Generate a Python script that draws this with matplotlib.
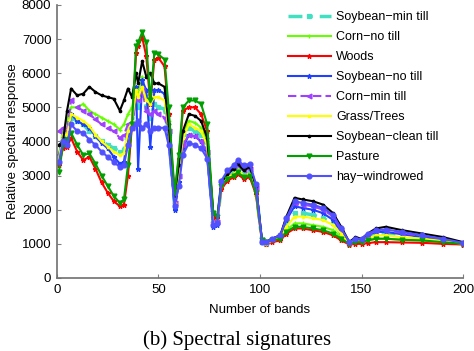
import matplotlib
matplotlib.use("Agg")
import matplotlib.pyplot as plt

bands = [1, 3, 5, 7, 10, 13, 16, 19, 22, 25, 28, 31, 33, 35, 37, 39, 40, 42, 44, 46,
         48, 50, 53, 55, 58, 60, 62, 65, 68, 71, 74, 77, 79, 81, 84, 87, 89, 92, 95, 98,
         101, 103, 106, 110, 113, 117, 121, 126, 131, 136, 140, 144, 147, 150, 153, 157,
         162, 170, 180, 190, 200]

soy_min = [3500, 4200, 4100, 4700, 4600, 4500, 4300, 4150, 4000, 3900, 3800, 3700, 3750, 4300, 4500, 5400, 5000, 5500, 5000, 4700,
           5100, 5000, 4950, 4200, 2100, 3000, 4000, 4400, 4300, 4200, 3800, 1600, 1600, 2750, 3000, 3100, 3200, 3050, 3100, 2600,
           1050, 1000, 1100, 1200, 1550, 1900, 1900, 1850, 1750, 1600, 1300, 1000, 1100, 1050, 1200, 1300,
           1300, 1250, 1180, 1100, 1000]
corn_no = [3500, 4300, 4600, 5000, 5000, 5100, 4900, 4800, 4700, 4600, 4500, 4350, 4500, 4800, 5000, 5600, 5500, 5900, 5300, 5400,
           5500, 5500, 5400, 4600, 2300, 3200, 4200, 4600, 4550, 4400, 4000, 1750, 1700, 2700, 2950, 3050, 3150, 3000, 3050, 2550,
           1050, 1000, 1100, 1150, 1400, 1600, 1600, 1550, 1500, 1400, 1200, 1000, 1050, 1050, 1100, 1150,
           1150, 1120, 1100, 1050, 1000]
woods = [3300, 3800, 3850, 4100, 3700, 3450, 3550, 3200, 2800, 2500, 2250, 2100, 2150, 3000, 4500, 6600, 6800, 7050, 6500, 5100,
         6400, 6450, 6200, 4800, 2400, 3500, 4900, 5000, 5000, 4800, 4300, 1800, 1750, 2600, 2850, 2950, 3050, 2900, 2950, 2450,
         1050, 1000, 1050, 1100, 1300, 1450, 1450, 1400, 1350, 1250, 1100, 980, 1000, 1000, 1020, 1050,
         1050, 1040, 1030, 1000, 980]
soy_no = [3600, 4100, 4000, 4800, 4600, 4500, 4400, 4150, 3950, 3800, 3550, 3350, 3400, 4200, 4400, 5600, 3200, 5800, 5500, 3850,
          5500, 5500, 5400, 4200, 2000, 2800, 3800, 4200, 4150, 4000, 3600, 1500, 1550, 2800, 3100, 3250, 3400, 3250, 3300, 2700,
          1050, 1050, 1150, 1250, 1700, 2100, 2050, 2000, 1900, 1700, 1350, 1050, 1150, 1100, 1250, 1350,
          1350, 1280, 1200, 1120, 1020]
corn_min = [4300, 4400, 4300, 5200, 5000, 4900, 4800, 4650, 4500, 4400, 4300, 4100, 4200, 4500, 4400, 5300, 5200, 5500, 4900, 4800,
            4900, 4800, 4700, 4300, 2200, 3000, 3900, 4200, 4150, 4000, 3700, 1650, 1650, 2800, 3050, 3200, 3300, 3150, 3200, 2650,
            1100, 1050, 1150, 1250, 1750, 2200, 2150, 2100, 2000, 1800, 1400, 1050, 1150, 1100, 1250, 1400,
            1400, 1320, 1230, 1150, 1030]
grass = [3500, 4200, 4200, 4800, 4700, 4600, 4450, 4200, 4000, 3850, 3700, 3600, 3650, 4300, 4600, 5500, 5300, 5600, 5200, 5100,
         5300, 5300, 5200, 4400, 2200, 3100, 4100, 4500, 4400, 4300, 3900, 1600, 1600, 2700, 2950, 3050, 3150, 3000, 3050, 2550,
         1050, 1000, 1100, 1200, 1500, 1800, 1800, 1750, 1700, 1550, 1300, 1000, 1100, 1050, 1150, 1250,
         1250, 1200, 1150, 1080, 1000]
soy_clean = [3900, 4000, 4900, 5550, 5350, 5400, 5600, 5450, 5350, 5300, 5250, 4900, 5200, 5550, 5300, 6000, 5700, 6350, 5900, 6000,
             5700, 5700, 5600, 4500, 2400, 3300, 4300, 4800, 4750, 4600, 4100, 1900, 1800, 2800, 3050, 3200, 3350, 3150, 3250, 2700,
             1100, 1050, 1150, 1250, 1800, 2350, 2300, 2250, 2150, 1900, 1500, 1050, 1200, 1150, 1300, 1450,
             1500, 1400, 1300, 1200, 1050]
pasture = [3100, 3900, 4050, 4250, 3900, 3600, 3650, 3350, 3000, 2700, 2400, 2200, 2300, 3300, 4500, 6800, 6900, 7200, 6900, 5200,
           6600, 6550, 6400, 5000, 2500, 3600, 5000, 5200, 5200, 5100, 4500, 1900, 1800, 2700, 2900, 3000, 3100, 2950, 3000, 2500,
           1100, 1050, 1100, 1150, 1350, 1500, 1500, 1450, 1400, 1300, 1150, 1000, 1050, 1050, 1100, 1150,
           1150, 1120, 1100, 1050, 1000]
hay = [3400, 4000, 3900, 4500, 4300, 4250, 4050, 3900, 3700, 3550, 3400, 3250, 3300, 3900, 4400, 4500, 4600, 4400, 4500, 4300,
       4400, 4400, 4400, 3900, 2100, 2700, 3600, 3950, 3900, 3800, 3500, 1550, 1600, 2850, 3150, 3300, 3450, 3300, 3350, 2750,
       1050, 1050, 1150, 1250, 1750, 2250, 2200, 2150, 2050, 1850, 1450, 1050, 1150, 1150, 1300, 1400,
       1420, 1350, 1250, 1150, 1030]

series = [
    ("Soybean\u2212min till", soy_min, "#40E0C0", (0, (4, 2, 1, 2)), "s", 2.5),
    ("Corn\u2212no till", corn_no, "#66FF00", "-", "+", 1.5),
    ("Woods", woods, "#FF0000", "-", "*", 1.5),
    ("Soybean\u2212no till", soy_no, "#2040FF", "-", "*", 1.5),
    ("Corn\u2212min till", corn_min, "#A040FF", (0, (4, 2)), "<", 1.5),
    ("Grass/Trees", grass, "#FFFF00", "-", ".", 1.5),
    ("Soybean\u2212clean till", soy_clean, "#000000", "-", ".", 1.5),
    ("Pasture", pasture, "#00A000", "-", "v", 1.5),
    ("hay\u2212windrowed", hay, "#5050FF", "-", "o", 1.5),
]

plt.rcParams['font.family'] = ['Liberation Sans', 'DejaVu Sans']
fig = plt.figure(figsize=(4.74, 3.51), dpi=100)
ax = fig.add_axes([0.120, 0.208, 0.857, 0.778])

for name, vals, col, ls, mk, lw in series:
    ax.plot(bands, vals, color=col, linestyle=ls, linewidth=lw, marker=mk,
            markersize=3.5, markeredgewidth=0.9, label=name)

ax.set_xlim(0, 200)
ax.set_ylim(0, 8000)
ax.set_xticks([0, 50, 100, 150, 200])
ax.set_yticks(range(0, 8001, 1000))
ax.tick_params(direction='in', length=3, labelsize=9.5, color='#808080', pad=4)
for s in ['top', 'right']:
    ax.spines[s].set_visible(False)
for s in ['left', 'bottom']:
    ax.spines[s].set_color('#707070')
    ax.spines[s].set_linewidth(1.2)

ax.set_xlabel("Number of bands", fontsize=9.5, labelpad=6)
ax.set_ylabel("Relative spectral response", fontsize=9.5, labelpad=2)

leg = ax.legend(loc='upper left', bbox_to_anchor=(0.56, 0.99), frameon=False,
                fontsize=9, handlelength=3.4, handletextpad=0.45,
                labelspacing=0.64, borderaxespad=0.0, borderpad=0.3)

fig.text(0.5, 0.032, "(b) Spectral signatures", family='Liberation Serif',
         fontsize=15, ha='center', va='center')

fig.savefig("out.png", dpi=100)
